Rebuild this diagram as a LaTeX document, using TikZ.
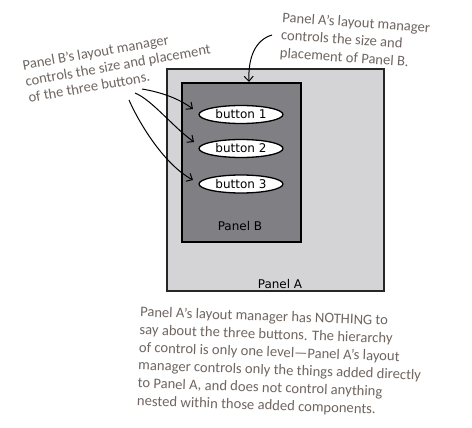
\documentclass[tikz,border=0pt]{standalone}
\usepackage{fontspec}
\usetikzlibrary{shapes.geometric,arrows.meta,calc}
\newfontfamily\notefont{Carlito}
\newfontfamily\uifont{DejaVu Sans}
\definecolor{notecol}{RGB}{112,102,97}
\definecolor{panelA}{RGB}{212,212,214}
\definecolor{panelB}{RGB}{128,128,132}
\begin{document}
\begin{tikzpicture}[x=1pt,y=-1pt,
  note/.style={text=notecol,align=left,inner sep=0pt,font=\notefont\fontsize{14.6}{17.8}\selectfont},
  panelbox/.style={draw=black,line width=1.5pt,inner sep=0pt},
  btn/.style={ellipse,draw=black,fill=white,line width=1.3pt,inner sep=0pt,minimum width=84pt,minimum height=18pt,font=\uifont\fontsize{12}{14}\selectfont},
  plabel/.style={inner sep=0pt,font=\uifont\fontsize{12}{14}\selectfont},
  arr/.style={draw=black,line width=1pt,-{Straight Barb[length=5pt,width=9pt]}}]
\useasboundingbox (0,0) rectangle (472,428);
\fill[white] (0,0) rectangle (472,428);
% panels
\node[panelbox,draw=black!85,fill=panelA,minimum width=217pt,minimum height=222pt] (A) at (275.5,180) {};
\node[panelbox,fill=panelB,minimum width=119pt,minimum height=159pt] (B) at (241.5,162.5) {};
\node[btn] (b1) at (241,114.5) {button 1};
\node[btn] (b2) at (241,148.5) {button 2};
\node[btn] (b3) at (241,184) {button 3};
\node[plabel] (lB) at (240,226) {Panel B};
\node[plabel] (lA) at (280,284) {Panel A};
% notes
\node[note,rotate=10,font=\notefont\fontsize{14.6}{16.5}\selectfont] (nB) at (118,65) {Panel B’s layout manager\\controls the size and placement\\of the three buttons.};
\node[note,rotate=-4] (nA) at (355,41) {Panel A’s layout manager\\controls the size and\\placement of Panel B.};
\node[note,rotate=-2] (nN) at (280,362) {Panel A’s layout manager has NOTHING to\\say about the three buttons. The hierarchy\\of control is only one level—Panel A’s layout\\manager controls only the things added directly\\to Panel A, and does not control anything\\nested within those added components.};
% arrow ends
\coordinate (sA) at (272,35);
\coordinate (eA) at (249,82);
\coordinate (s1) at (142,89);
\coordinate (e1) at (193,109);
\coordinate (s2) at (135,93);
\coordinate (e2) at (194,142);
\coordinate (s3) at (129,100);
\coordinate (e3) at (193,180);
\draw[arr] (sA) .. controls (255,40) and (248,58) .. (eA);
\draw[arr] (s1) .. controls (160,92) and (178,98) .. (e1);
\draw[arr] (s2) .. controls (152,100) and (172,126) .. (e2);
\draw[arr] (s3) .. controls (140,125) and (165,165) .. (e3);
\end{tikzpicture}
\end{document}
